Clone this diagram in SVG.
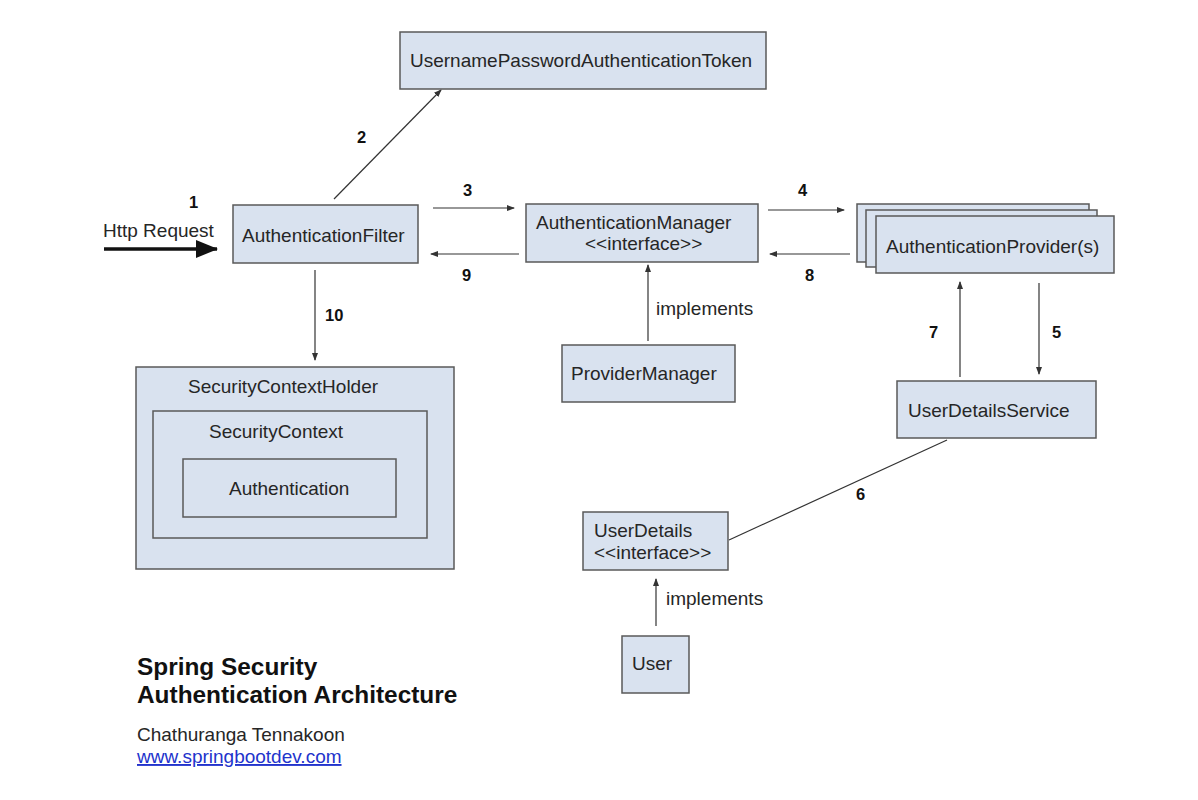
<svg xmlns="http://www.w3.org/2000/svg" width="1198" height="800" viewBox="0 0 1198 800">
<defs>
<style>
.box{fill:#d9e2ef;stroke:#595959;stroke-width:1.5}
.t{font-family:"Liberation Sans",Arial,sans-serif;font-size:19px;fill:#262626}
.n{font-family:"Liberation Sans",Arial,sans-serif;font-size:16.5px;font-weight:bold;fill:#111}
.c{stroke:#333;stroke-width:1.2;fill:none}
.ttl{font-family:"Liberation Sans",Arial,sans-serif;font-size:24.4px;font-weight:bold;fill:#111}
</style>
<marker id="ah" markerWidth="8" markerHeight="6" refX="7" refY="3" orient="auto" markerUnits="userSpaceOnUse">
<path d="M0,0 L8,3 L0,6 z" fill="#333"/>
</marker>
<marker id="big" markerWidth="22" markerHeight="18" refX="21" refY="9" orient="auto" markerUnits="userSpaceOnUse">
<path d="M0,0 L22,9 L0,18 z" fill="#111"/>
</marker>
</defs>
<rect width="1198" height="800" fill="#fff"/>

<g id="connectors">
<line x1="104" y1="249" x2="217" y2="249" stroke="#111" stroke-width="3.5" marker-end="url(#big)"/>
<line class="c" x1="334" y1="199" x2="441" y2="90" marker-end="url(#ah)"/>
<line class="c" x1="433" y1="208" x2="514" y2="208" marker-end="url(#ah)"/>
<line class="c" x1="519" y1="254" x2="431" y2="254" marker-end="url(#ah)"/>
<line class="c" x1="768" y1="210" x2="844" y2="210" marker-end="url(#ah)"/>
<line class="c" x1="850" y1="254" x2="770" y2="254" marker-end="url(#ah)"/>
<line class="c" x1="648" y1="341" x2="648" y2="265" marker-end="url(#ah)"/>
<line class="c" x1="315" y1="270" x2="315" y2="360" marker-end="url(#ah)"/>
<line class="c" x1="960" y1="377" x2="960" y2="282" marker-end="url(#ah)"/>
<line class="c" x1="1039" y1="283" x2="1039" y2="374" marker-end="url(#ah)"/>
<line class="c" x1="947" y1="440" x2="729" y2="540"/>
<line class="c" x1="656" y1="626" x2="656" y2="579" marker-end="url(#ah)"/>
<text class="n" x="189" y="208">1</text>
<text class="t" x="103" y="237">Http Request</text>
<text class="n" x="357" y="143">2</text>
<text class="n" x="463" y="196">3</text>
<text class="n" x="462" y="281">9</text>
<text class="n" x="798" y="196">4</text>
<text class="n" x="805" y="281">8</text>
<text class="n" x="325" y="321">10</text>
<text class="t" x="656" y="315">implements</text>
<text class="n" x="929" y="338">7</text>
<text class="n" x="1052" y="338">5</text>
<text class="n" x="856" y="500">6</text>
<text class="t" x="666" y="605">implements</text>
</g>

<g id="token">
<rect class="box" x="400" y="32" width="366" height="57"/>
<text class="t" x="410" y="67">UsernamePasswordAuthenticationToken</text>
</g>

<g id="filter">
<rect class="box" x="233" y="205" width="185" height="58"/>
<text class="t" x="242" y="242">AuthenticationFilter</text>
</g>

<g id="manager">
<rect class="box" x="526" y="204" width="232" height="58"/>
<text class="t" x="536" y="229">AuthenticationManager</text>
<text class="t" x="585" y="250">&lt;&lt;interface&gt;&gt;</text>
</g>

<g id="providers">
<rect class="box" x="857" y="204" width="232" height="58"/>
<rect class="box" x="866" y="210" width="231" height="57"/>
<rect class="box" x="876" y="216" width="238" height="57"/>
<text class="t" x="886" y="253">AuthenticationProvider(s)</text>
</g>

<g id="providerManager">
<rect class="box" x="562" y="345" width="173" height="57"/>
<text class="t" x="571" y="380">ProviderManager</text>
</g>

<g id="userDetailsService">
<rect class="box" x="897" y="381" width="199" height="57"/>
<text class="t" x="908" y="417">UserDetailsService</text>
</g>

<g id="userDetails">
<rect class="box" x="583" y="512" width="145" height="58"/>
<text class="t" x="594" y="537">UserDetails</text>
<text class="t" x="594" y="559">&lt;&lt;interface&gt;&gt;</text>
</g>

<g id="user">
<rect class="box" x="622" y="636" width="67" height="57"/>
<text class="t" x="632" y="670">User</text>
</g>

<g id="securityContextHolder">
<rect class="box" x="136" y="367" width="318" height="202"/>
<text class="t" x="188" y="393">SecurityContextHolder</text>
<g id="securityContext">
<rect class="box" x="153" y="411" width="274" height="127"/>
<text class="t" x="209" y="438">SecurityContext</text>
<g id="authentication">
<rect class="box" x="183" y="459" width="213" height="58"/>
<text class="t" x="229" y="495">Authentication</text>
</g>
</g>
</g>

<g id="title">
<text class="ttl" x="137" y="675">Spring Security</text>
<text class="ttl" x="137" y="703">Authentication Architecture</text>
<text class="t" x="137" y="741">Chathuranga Tennakoon</text>
<text class="t" x="137" y="763" style="fill:#2233cc;text-decoration:underline">www.springbootdev.com</text>
</g>
</svg>
